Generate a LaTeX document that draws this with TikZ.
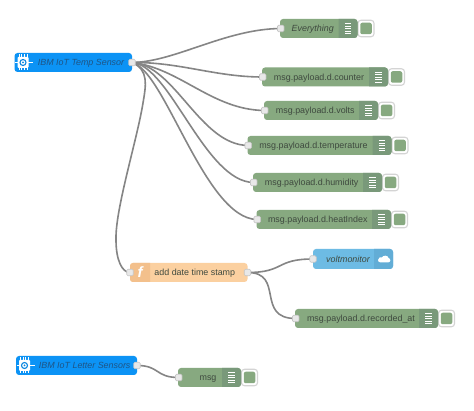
\documentclass[tikz,border=0pt]{standalone}
\usepackage{fontspec}
\setmainfont{Liberation Sans}
\usetikzlibrary{backgrounds}
\definecolor{dbg}{HTML}{87A980}
\definecolor{dbgdark}{HTML}{79997A}
\definecolor{blu}{HTML}{0C93F5}
\definecolor{bludark}{HTML}{0A86E0}
\definecolor{bluetxt}{HTML}{1F5585}
\definecolor{org}{HTML}{FBD0A0}
\definecolor{orgdark}{HTML}{F3C08C}
\definecolor{sky}{HTML}{6DBBE4}
\definecolor{skydark}{HTML}{62ADD6}
\definecolor{wire}{HTML}{858585}
\definecolor{txt}{HTML}{3F4A3F}
\tikzset{
  x=1pt,y=-1pt,
  body/.style={rounded corners=3,inner sep=0pt,minimum height=19pt},
  lbl/.style={inner sep=0pt,font=\fontsize{8.9}{10}\selectfont,text=txt,text height=6.5pt,text depth=0pt},
  ital/.style={font=\fontsize{8.9}{10}\selectfont\itshape},
  port/.style={draw=gray!45,fill=gray!18,rounded corners=1.2,line width=.6pt,minimum size=6.5pt,inner sep=0pt},
  btn/.style={draw=black!17,fill=white,line width=1.1pt,rounded corners=3,minimum width=16pt,minimum height=16.5pt,inner sep=0pt},
  btnin/.style={fill=dbg,rounded corners=2,minimum width=11.5pt,minimum height=11.5pt,inner sep=0pt},
  link/.style={draw=wire,line width=1.6pt},
  bars/.style={draw=white,line width=.8pt},
}
% name, left, right, centre y, text centre x, text style, text
\newcommand{\dbgnode}[7]{%
  \pgfmathsetmacro{\bw}{#3-#2}\pgfmathsetmacro{\mx}{(#2+#3)/2}%
  \pgfmathsetmacro{\sx}{#3-19}\pgfmathsetmacro{\ix}{#3-9.5}%
  \pgfmathsetmacro{\bx}{#3+8.5}\pgfmathsetmacro{\yt}{#4-9.5}\pgfmathsetmacro{\yb}{#4+9.5}%
  \pgfmathsetmacro{\px}{#2+0.7}%
  \node[btn] (#1btn) at (\bx,#4) {};
  \node[btnin] (#1led) at (\bx,#4) {};
  \node[body,fill=dbg,minimum width=\bw pt] (#1) at (\mx,#4) {};
  \fill[dbgdark] (\sx,\yt) [rounded corners=3] -- (#3,\yt) -- (#3,\yb) [sharp corners] -- (\sx,\yb) -- cycle;
  \foreach \dy in {-5,-2.5,0,2.5,5} {\draw[bars] (\ix-3.2,#4+\dy) -- (\ix+3.2,#4+\dy);}
  \node[lbl,#6] (#1txt) at (#5,#4) {#7};
  \node[port] (#1in) at (\px,#4) {};
}
\newcommand{\sensor}[7]{%
  \pgfmathsetmacro{\bw}{#3-#2}\pgfmathsetmacro{\mx}{(#2+#3)/2}%
  \pgfmathsetmacro{\ix}{#2+8.5}%
  \node[body,fill=blu,minimum width=\bw pt] (#1) at (\mx,#4) {};
  \foreach \dy in {-4,-1.3,1.3,4} {
    \draw[white,line width=.8pt] (\ix+\dy,#4-8) -- (\ix+\dy,#4+8);
  }
  \draw[white,line width=.9pt] (\ix-8,#4) -- (\ix+10,#4);
  \fill[white,rounded corners=1] (\ix-5.5,#4-5.5) rectangle (\ix+5.5,#4+5.5);
  \draw[bludark,line width=1.1pt,fill=white] (\ix,#4) circle (3);
  \fill[bludark] (\ix,#4) circle (1);
  \node[lbl,#6,text=bluetxt] (#1txt) at (#5,#4) {#7};
  \node[port] (#1out) at (#3,#4) {};
}
\begin{document}
\begin{tikzpicture}
\useasboundingbox (0,0) rectangle (474,411);

\sensor{temp}{14.5}{132}{62.5}{81}{ital}{IBM IoT Temp Sensor}
\sensor{letter}{16}{137}{365.5}{84.7}{ital}{IBM IoT Letter Sensors}

\dbgnode{every}{280}{357.5}{28.5}{312.7}{ital}{Everything}
\dbgnode{counter}{262}{388}{77}{319}{}{msg.payload.d.counter}
\dbgnode{volts}{264}{378}{110.5}{315.3}{}{msg.payload.d.volts}
\dbgnode{temper}{247.5}{391.5}{145.5}{313.5}{}{msg.payload.d.temperature}
\dbgnode{humid}{253}{382}{182.5}{311.7}{}{msg.payload.d.humidity}
\dbgnode{heat}{256.5}{391}{219.5}{317.8}{}{msg.payload.d.heatIndex}
\dbgnode{recorded}{295}{438}{318.5}{361}{}{msg.payload.d.recorded\_at}
\dbgnode{msg}{178}{241}{377.5}{208}{}{msg}

% function node
\node[body,fill=org,minimum width=117.5pt] (func) at (188.75,272.5) {};
\fill[orgdark] (150,263) -- (150,282) -- (135,282) [rounded corners=3] -- (130,282) -- (130,263) [sharp corners] -- (135,263) -- cycle;
\node[inner sep=0pt,text=white,font=\fontsize{15}{15}\selectfont\itshape\bfseries] (ficon) at (140,272.5) {f};
\node[lbl] (functxt) at (194.8,272.5) {add date time stamp};
\node[port] (funcin) at (130,272.5) {};
\node[port] (funcout) at (247.5,272.5) {};

% voltmonitor node
\node[body,fill=sky,minimum width=80pt,minimum height=20pt] (volt) at (353,259) {};
\fill[skydark] (374,249) [rounded corners=3] -- (393,249) -- (393,269) [sharp corners] -- (374,269) -- cycle;
\fill[white] (378,260) .. controls (378,257) and (381,257) .. (382,257.5) .. controls (383,255) and (388,255) .. (388.5,258) .. controls (391,258.5) and (391,262.5) .. (388,262.5) -- (381,262.5) .. controls (379,262.5) and (378,261.5) .. (378,260) -- cycle;
\node[lbl,ital] (volttxt) at (348,259) {voltmonitor};
\node[port] (voltin) at (313,259) {};

\begin{scope}[on background layer]
\fill[white] (0,0) rectangle (474,411);
\draw[link] (tempout.center) .. controls (175,62) and (225,29) .. (everyin.center);
\draw[link] (tempout.center) .. controls (180,62) and (215,77) .. (counterin.center);
\draw[link] (tempout.center) .. controls (180,68) and (212,110) .. (voltsin.center);
\draw[link] (tempout.center) .. controls (175,65) and (200,145) .. (temperin.center);
\draw[link] (tempout.center) .. controls (170,65) and (205,182) .. (humidin.center);
\draw[link] (tempout.center) .. controls (165,70) and (205,219) .. (heatin.center);
\draw[link] (tempout.center) .. controls (149,70) and (146,85) .. (143,103) .. controls (137,140) and (115,210) .. (116,240) .. controls (116,260) and (122,272.5) .. (funcin.center);
\draw[link] (funcout.center) .. controls (285,272.5) and (275,259) .. (voltin.center);
\draw[link] (funcout.center) .. controls (285,272.5) and (255,318.5) .. (recordedin.center);
\draw[link] (letterout.center) .. controls (160,365.5) and (155,377.5) .. (msgin.center);
\end{scope}
\end{tikzpicture}
\end{document}
